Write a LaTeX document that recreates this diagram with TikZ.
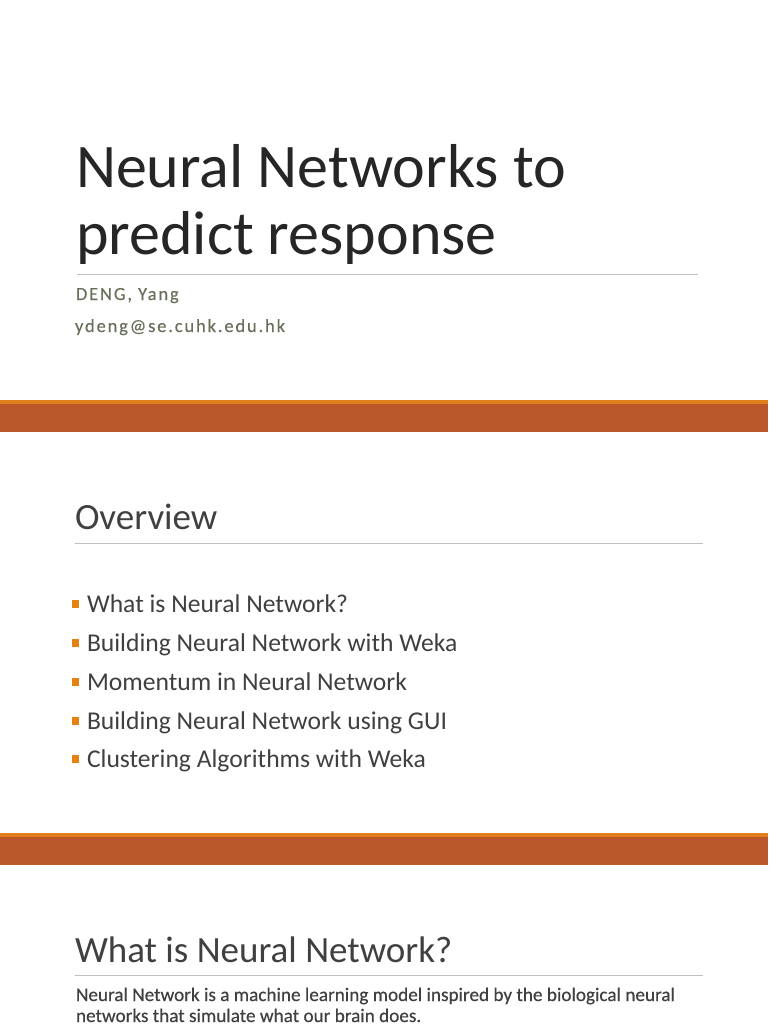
\documentclass[tikz,border=0pt]{standalone}
\usepackage{fontspec}
\setmainfont{Carlito}
\newfontfamily\spaced[LetterSpace=10,FakeBold=0.25]{Carlito}
\newfontfamily\parafont[FakeBold=0.4]{Carlito}
\definecolor{bandbrown}{HTML}{BA582B}
\definecolor{bandorange}{HTML}{E07F1C}
\definecolor{bullet}{HTML}{E48312}
\definecolor{subgreen}{HTML}{68705A}
\definecolor{titlegrey}{HTML}{262626}
\definecolor{bodygrey}{HTML}{404040}
\definecolor{rulegrey}{HTML}{BFBFBF}
\tikzset{
  x=1pt,y=-1pt,
  txt/.style={anchor=base west,inner sep=0pt,outer sep=0pt},
  bigtitle/.style={txt,text=titlegrey,font=\fontsize{62}{62}\selectfont},
  subline/.style={txt,text=subgreen,font=\fontsize{18.5}{20}\spaced},
  heading/.style={txt,text=bodygrey,font=\fontsize{37}{40}\selectfont},
  item/.style={txt,text=bodygrey,font=\fontsize{25.6}{28}\selectfont},
  para/.style={txt,text=bodygrey,font=\fontsize{19.2}{22}\parafont},
  rulel/.style={draw=rulegrey,line width=0.9pt},
  bulletbox/.style={fill=bullet,minimum size=7.5pt,inner sep=0pt,outer sep=0pt,draw=none}
}
\newcommand{\band}[1]{%
  \fill[bandorange] (0,#1) rectangle (768,#1+4);
  \fill[bandbrown] (0,#1+4) rectangle (768,#1+32);}
\begin{document}
\begin{tikzpicture}
\useasboundingbox (0,0) rectangle (768,1024);
\fill[white] (0,0) rectangle (768,1024);
\node[bigtitle] (t1) at (76,188) {Neural Networks to};
\node[bigtitle] (t2) at (76,254) {predict response};
\draw[rulel] (77,274) -- (698,274);
\node[subline] (s1) at (76,300) {DENG, Yang};
\node[subline] (s2) at (75,332) {ydeng@se.cuhk.edu.hk};
\band{400}
\node[heading] (h1) at (75,529) {Overview};
\draw[rulel] (75,543) -- (703,543);
\foreach \n/\y/\s in {a/612/What is Neural Network?,b/651/Building Neural Network with Weka,c/690/Momentum in Neural Network,d/729/Building Neural Network using GUI,e/767/Clustering Algorithms with Weka}{
  \node[bulletbox] (b\n) at (75.5,\y-8) {};
  \node[item] (i\n) at (87,\y) {\s};
}
\band{833}
\node[heading] (h2) at (75,962) {What is Neural Network?};
\draw[rulel] (75,975) -- (703,975);
\node[para] (p1) at (76,1001) {Neural Network is a machine learning model inspired by the biological neural};
\node[para] (p2) at (76,1022) {networks that simulate what our brain does.};
\end{tikzpicture}
\end{document}
